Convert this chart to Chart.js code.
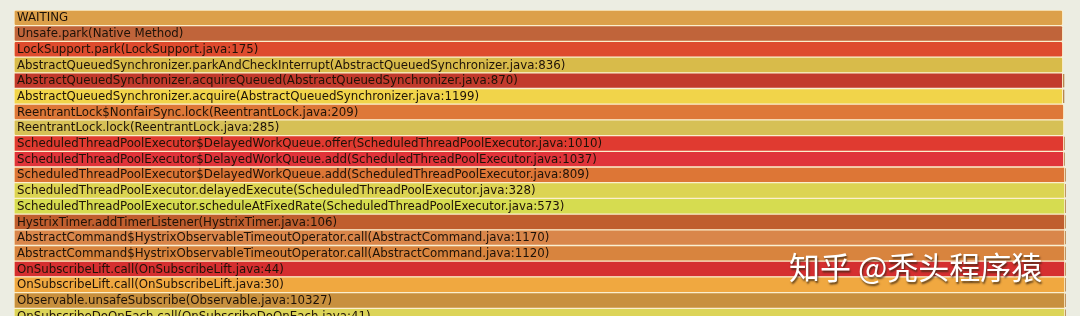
<!DOCTYPE html>
<html>
<head>
<meta charset="utf-8">
<script src="https://cdn.jsdelivr.net/npm/chart.js@4/dist/chart.umd.min.js"></script>
<style>
  html, body { margin: 0; padding: 0; background: #ecede2; overflow: hidden; }
  #wrap { position: relative; width: 1080px; height: 316px; overflow: hidden; }
  #chart { position: absolute; left: 0; top: 0; }
  #mark {
    position: absolute; left: 789px; top: 250px;
    font: 31px "Noto Sans CJK SC", sans-serif; color: #fff;
    text-shadow: 1px 2px 2px rgba(60, 40, 20, 0.8);
    white-space: nowrap; line-height: 1;
  }
</style>
</head>
<body>
<div id="wrap">
  <canvas id="chart" width="1080" height="330"></canvas>
  <div id="mark">知乎 @秃头程序猿</div>
</div>
<script>
// stack frames, top (leaf) to bottom
const frames = [
    'WAITING',
    'Unsafe.park(Native Method)',
    'LockSupport.park(LockSupport.java:175)',
    'AbstractQueuedSynchronizer.parkAndCheckInterrupt(AbstractQueuedSynchronizer.java:836)',
    'AbstractQueuedSynchronizer.acquireQueued(AbstractQueuedSynchronizer.java:870)',
    'AbstractQueuedSynchronizer.acquire(AbstractQueuedSynchronizer.java:1199)',
    'ReentrantLock$NonfairSync.lock(ReentrantLock.java:209)',
    'ReentrantLock.lock(ReentrantLock.java:285)',
    'ScheduledThreadPoolExecutor$DelayedWorkQueue.offer(ScheduledThreadPoolExecutor.java:1010)',
    'ScheduledThreadPoolExecutor$DelayedWorkQueue.add(ScheduledThreadPoolExecutor.java:1037)',
    'ScheduledThreadPoolExecutor$DelayedWorkQueue.add(ScheduledThreadPoolExecutor.java:809)',
    'ScheduledThreadPoolExecutor.delayedExecute(ScheduledThreadPoolExecutor.java:328)',
    'ScheduledThreadPoolExecutor.scheduleAtFixedRate(ScheduledThreadPoolExecutor.java:573)',
    'HystrixTimer.addTimerListener(HystrixTimer.java:106)',
    'AbstractCommand$HystrixObservableTimeoutOperator.call(AbstractCommand.java:1170)',
    'AbstractCommand$HystrixObservableTimeoutOperator.call(AbstractCommand.java:1120)',
    'OnSubscribeLift.call(OnSubscribeLift.java:44)',
    'OnSubscribeLift.call(OnSubscribeLift.java:30)',
    'Observable.unsafeSubscribe(Observable.java:10327)',
    'OnSubscribeDoOnEach.call(OnSubscribeDoOnEach.java:41)'
];

// samples in each frame (out of 1000)
const samples = [995, 995, 995, 995, 995, 995, 996, 996, 996, 996,
                 997, 997, 997, 997, 997, 997, 997, 997, 997, 997];
// small neighbouring frames at the right edge
const otherSamples = [0, 0, 0, 0, 1.5, 1.5, 0, 0, 1, 1,
                      1, 1, 1, 1, 1, 1, 1, 1, 1, 1];

const frameColors = [
    '#dca04a', '#c0643a', '#de4b2e', '#d8bb4a', '#c23a2c',
    '#f1d44a', '#de7838', '#d6c056', '#e03a30', '#e0343a',
    '#dd7636', '#dcd452', '#d6dc50', '#c05e2e', '#d9864a',
    '#d8843e', '#d52f30', '#f0a840', '#c8903e', '#dcd458'
];

const frameLabels = {
    id: 'frameLabels',
    afterDatasetsDraw(chart) {
        const ctx = chart.ctx;
        const meta = chart.getDatasetMeta(0);
        ctx.save();
        ctx.font = '11.8px "DejaVu Sans", Verdana, sans-serif';
        ctx.fillStyle = '#1e1208';
        ctx.textBaseline = 'middle';
        meta.data.forEach((bar, i) => {
            ctx.fillText(frames[i], bar.base + 3, bar.y + 0.5);
        });
        ctx.restore();
    }
};

new Chart(document.getElementById('chart'), {
    type: 'bar',
    data: {
        labels: frames,
        datasets: [{
            data: samples,
            backgroundColor: frameColors,
            borderColor: '#fbefcd',
            borderWidth: 1,
            borderSkipped: false,
            borderRadius: 2,
            barPercentage: 1,
            categoryPercentage: 1
        }, {
            data: otherSamples,
            backgroundColor: '#b8864e',
            borderWidth: 0,
            barPercentage: 1,
            categoryPercentage: 0.85
        }]
    },
    plugins: [frameLabels],
    options: {
        indexAxis: 'y',
        responsive: false,
        animation: false,
        layout: { padding: { left: 14, right: 12, top: 10, bottom: 6 } },
        scales: {
            x: { stacked: true, min: 0, max: 1000, display: false },
            y: { stacked: true, display: false }
        },
        plugins: {
            legend: { display: false },
            tooltip: { enabled: false }
        }
    }
});
</script>
</body>
</html>
